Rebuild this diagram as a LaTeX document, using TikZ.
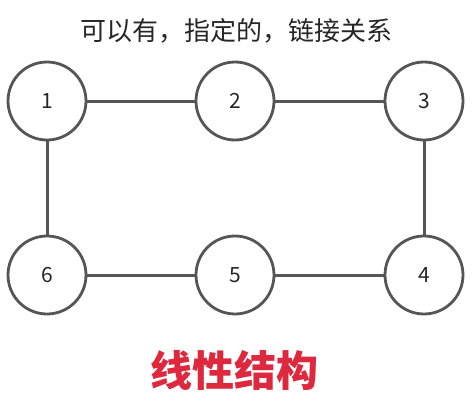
\documentclass[tikz,border=0pt]{standalone}
\usepackage{fontspec}
\setmainfont{Noto Sans CJK SC}
\usetikzlibrary{positioning}
\definecolor{edgegray}{RGB}{85,85,85}
\definecolor{titlered}{RGB}{221,40,62}
\begin{document}
\begin{tikzpicture}[x=1pt,y=-1pt]
\useasboundingbox (0,0) rectangle (474,415);
\tikzset{vertex/.style={draw=edgegray,circle,line width=2.8pt,minimum size=78pt,inner sep=0pt,font=\fontsize{21}{21}\selectfont,text=black!85},
  link/.style={draw=edgegray,line width=3pt}}
\node[font=\fontsize{26}{26}\selectfont,text=black!85] (cap) at (236,31) {可以有，指定的，链接关系};
\node[vertex] (n1) at (47,101) {1};
\node[vertex] (n2) at (235,101) {2};
\node[vertex] (n3) at (424,101) {3};
\node[vertex] (n4) at (424,275) {4};
\node[vertex] (n5) at (235,275) {5};
\node[vertex] (n6) at (47,275) {6};
\draw[link] (n1) -- (n2);
\draw[link] (n2) -- (n3);
\draw[link] (n3) -- (n4);
\draw[link] (n4) -- (n5);
\draw[link] (n5) -- (n6);
\draw[link] (n6) -- (n1);
\node[font=\fontsize{42}{42}\selectfont\bfseries,text=titlered] (name) at (234,370) {线性结构};
\end{tikzpicture}
\end{document}
